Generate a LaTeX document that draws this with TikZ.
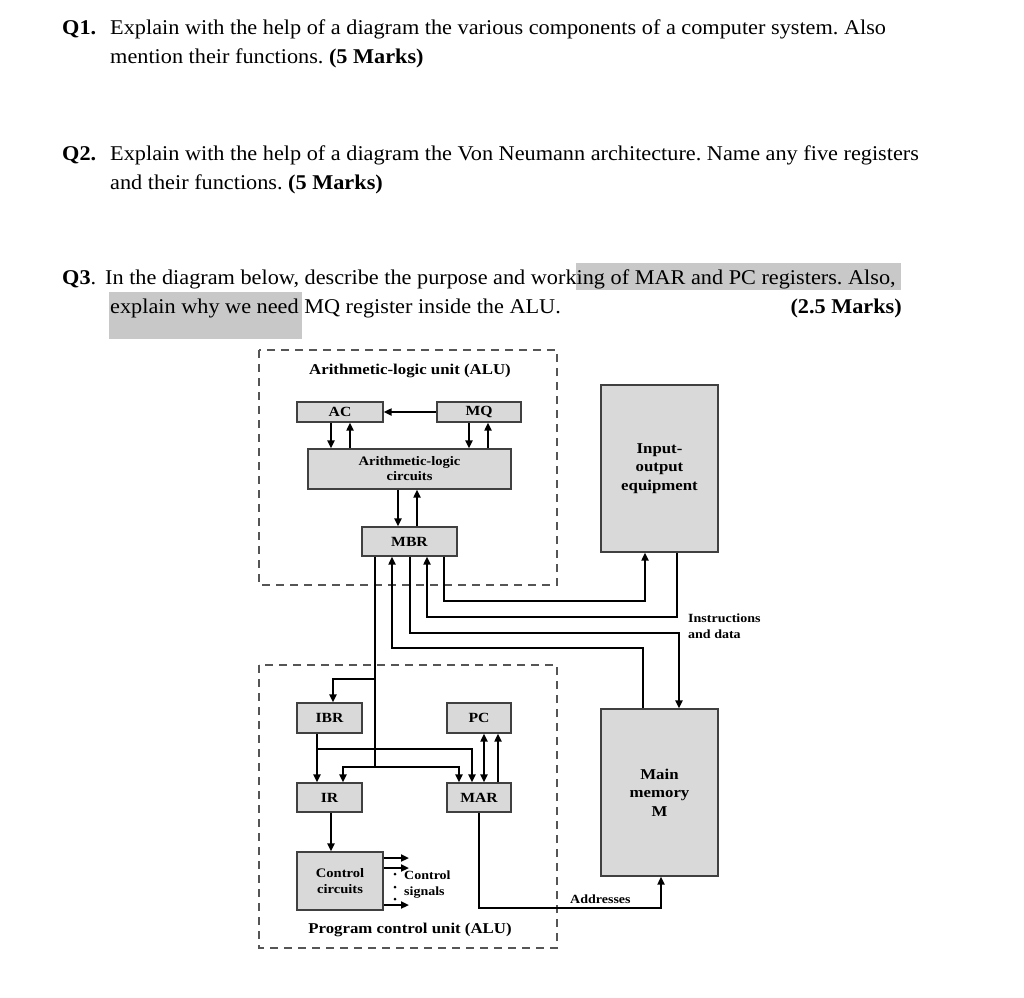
\documentclass[tikz,border=0pt]{standalone}
\usepackage{fontspec}
\setmainfont{Liberation Serif}[FakeStretch=1.06]
\newfontfamily\dfont{Liberation Serif}[FakeStretch=1.12]
\usetikzlibrary{arrows.meta}
\definecolor{boxfill}{HTML}{D9D9D9}
\definecolor{boxline}{HTML}{404040}
\definecolor{hilite}{HTML}{C8C8C8}
\definecolor{dashcol}{HTML}{555555}
\frenchspacing
\begin{document}
\begin{tikzpicture}[x=1pt,y=-1pt,
  box/.style={draw=boxline, fill=boxfill, line width=1.3pt, inner sep=0pt, align=center,
    font=\dfont\fontsize{14}{15}\selectfont\bfseries},
  lab/.style={inner sep=0pt, align=center, font=\dfont\fontsize{13}{15}\selectfont\bfseries},
  con/.style={line width=2.2pt, draw=black},
  arr/.style={con, -{Triangle[length=8pt,width=7pt]}},
  dbl/.style={con, {Triangle[length=8pt,width=7pt]}-{Triangle[length=8pt,width=7pt]}},
  dashbox/.style={draw=dashcol, line width=1.5pt, dash pattern=on 8pt off 6pt},
  qtext/.style={anchor=base west, inner sep=0pt, font=\fontsize{21}{24}\selectfont},
]
\useasboundingbox (0,0) rectangle (1024,997);
\fill[white] (0,0) rectangle (1024,997);

% highlights
\fill[hilite] (576,263) rectangle (901,290);
\fill[hilite] (109,292) rectangle (302,339);

% question texts
\node[qtext] (q1a) at (62,34) {\textbf{Q1.}};
\node[qtext] (q1b) at (110,34) {Explain with the help of a diagram the various components of a computer system. Also};
\node[qtext] (q1c) at (110,63) {mention their functions. \textbf{(5 Marks)}};
\node[qtext] (q2a) at (62,160) {\textbf{Q2.}};
\node[qtext] (q2b) at (110,160) {Explain with the help of a diagram the Von Neumann architecture. Name any five registers};
\node[qtext] (q2c) at (110,189) {and their functions. \textbf{(5 Marks)}};
\node[qtext] (q3a) at (62,284) {\textbf{Q3}.};
\node[qtext] (q3b) at (105,284) {In the diagram below, describe the purpose and working of MAR and PC registers. Also,};
\node[qtext] (q3c) at (110,313) {explain why we need MQ register inside the ALU.};
\node[qtext, anchor=base east] (q3d) at (902,313) {\textbf{(2.5 Marks)}};

% dashed unit boxes
\draw[dashbox] (259,350) rectangle (557,585);
\draw[dashbox] (259,665) rectangle (557,948);

% boxes
\node[box, minimum width=86pt, minimum height=20pt] (AC) at (340,412) {AC};
\node[box, minimum width=84pt, minimum height=20pt] (MQ) at (479,412) {MQ};
\node[box, minimum width=203pt, minimum height=40pt, font=\dfont\fontsize{13}{15}\selectfont\bfseries] (ALC) at (409.5,469) {Arithmetic-logic\\circuits};
\node[box, minimum width=95pt, minimum height=29pt] (MBR) at (409.5,541.5) {MBR};
\node[box, minimum width=117pt, minimum height=167pt, font=\dfont\fontsize{15}{18.5}\selectfont\bfseries] (IO) at (659.5,468.5) {Input-\\output\\equipment};
\node[box, minimum width=117pt, minimum height=167pt, font=\dfont\fontsize{15}{18.5}\selectfont\bfseries] (MM) at (659.5,792.5) {Main\\memory\\M};
\node[box, minimum width=65pt, minimum height=30pt] (IBR) at (329.5,718) {IBR};
\node[box, minimum width=64pt, minimum height=30pt] (PC) at (479,718) {PC};
\node[box, minimum width=65pt, minimum height=29pt] (IR) at (329.5,797.5) {IR};
\node[box, minimum width=64pt, minimum height=29pt] (MAR) at (479,797.5) {MAR};
\node[box, minimum width=86pt, minimum height=58pt, font=\dfont\fontsize{13}{16}\selectfont\bfseries] (CC) at (340,881) {Control\\circuits};

% labels
\node[lab, font=\dfont\fontsize{15}{17}\selectfont\bfseries] (tALU) at (410,371) {Arithmetic-logic unit (ALU)};
\node[lab, font=\dfont\fontsize{15}{17}\selectfont\bfseries] (tPCU) at (410,930) {Program control unit (ALU)};
\node[lab, anchor=west, align=left, font=\dfont\fontsize{12.5}{16}\selectfont\bfseries] (tID) at (688,626) {Instructions\\and data};
\node[lab, anchor=west, font=\dfont\fontsize{12.5}{13}\selectfont\bfseries] (tAD) at (570,899) {Addresses};
\node[lab, anchor=west, align=left, font=\dfont\fontsize{12.5}{16}\selectfont\bfseries] (tCS) at (404,885) {Control\\signals};

% helper coordinates
\coordinate (r1) at (0,601);
\coordinate (r2) at (0,617);
\coordinate (r3) at (0,633);
\coordinate (r4) at (0,648);
\coordinate (j1) at (375,679);
\coordinate (j2) at (375,767);
\coordinate (j3) at (317,749);
\coordinate (r5) at (0,908);
\coordinate (cs1) at (409,858);
\coordinate (cs2) at (409,868);
\coordinate (cs3) at (409,905);

% ALU connectors
\draw[arr] (MQ.west) -- (AC.east);
\draw[arr] ([xshift=-9pt]AC.south) -- ([xshift=-9pt]AC.south |- ALC.north);
\draw[arr] ([xshift=10pt]AC.south |- ALC.north) -- ([xshift=10pt]AC.south);
\draw[arr] ([xshift=-10pt]MQ.south) -- ([xshift=-10pt]MQ.south |- ALC.north);
\draw[arr] ([xshift=9pt]MQ.south |- ALC.north) -- ([xshift=9pt]MQ.south);
\draw[arr] ([xshift=-11.5pt]ALC.south) -- ([xshift=-11.5pt]MBR.north);
\draw[arr] ([xshift=7.5pt]MBR.north) -- ([xshift=7.5pt]ALC.south);

% data buses
\draw[arr] ([xshift=34.5pt]MBR.south) -- ([xshift=34.5pt]MBR.south |- r1) -| ([xshift=-14.5pt]IO.south);
\draw[arr] ([xshift=17.5pt]IO.south) -- ([xshift=17.5pt]IO.south |- r2) -| ([xshift=17.5pt]MBR.south);
\draw[arr] ([xshift=0.5pt]MBR.south) -- ([xshift=0.5pt]MBR.south |- r3) -| ([xshift=19.5pt]MM.north);
\draw[arr] ([xshift=-16.5pt]MM.north) -- ([xshift=-16.5pt]MM.north |- r4) -| ([xshift=-17.5pt]MBR.south);

% main bus into control unit
\draw[con] ([xshift=-34.5pt]MBR.south) -- (j2);
\draw[arr] (j1) -| ([xshift=3.5pt]IBR.north);
\draw[arr] (j2) -| ([xshift=13.5pt]IR.north);
\draw[arr] (j2) -| ([xshift=-20pt]MAR.north);
\draw[arr] ([xshift=-12.5pt]IBR.south) -- ([xshift=-12.5pt]IR.north);
\draw[arr] (j3) -| ([xshift=-7pt]MAR.north);
\draw[dbl] ([xshift=5pt]PC.south) -- ([xshift=5pt]MAR.north);
\draw[arr] ([xshift=19pt]MAR.north) -- ([xshift=19pt]PC.south);
\draw[arr] ([xshift=1.5pt]IR.south) -- ([xshift=1.5pt]IR.south |- CC.north);
\draw[arr] (MAR.south) -- (MAR.south |- r5) -| ([xshift=1.5pt]MM.south);

% control signals
\draw[arr] (CC.east |- cs1) -- (cs1);
\draw[arr] (CC.east |- cs2) -- (cs2);
\draw[arr] (CC.east |- cs3) -- (cs3);
\fill (395,874) circle (1.5pt);
\fill (395,887) circle (1.5pt);
\fill (395,899) circle (1.5pt);
\end{tikzpicture}
\end{document}
